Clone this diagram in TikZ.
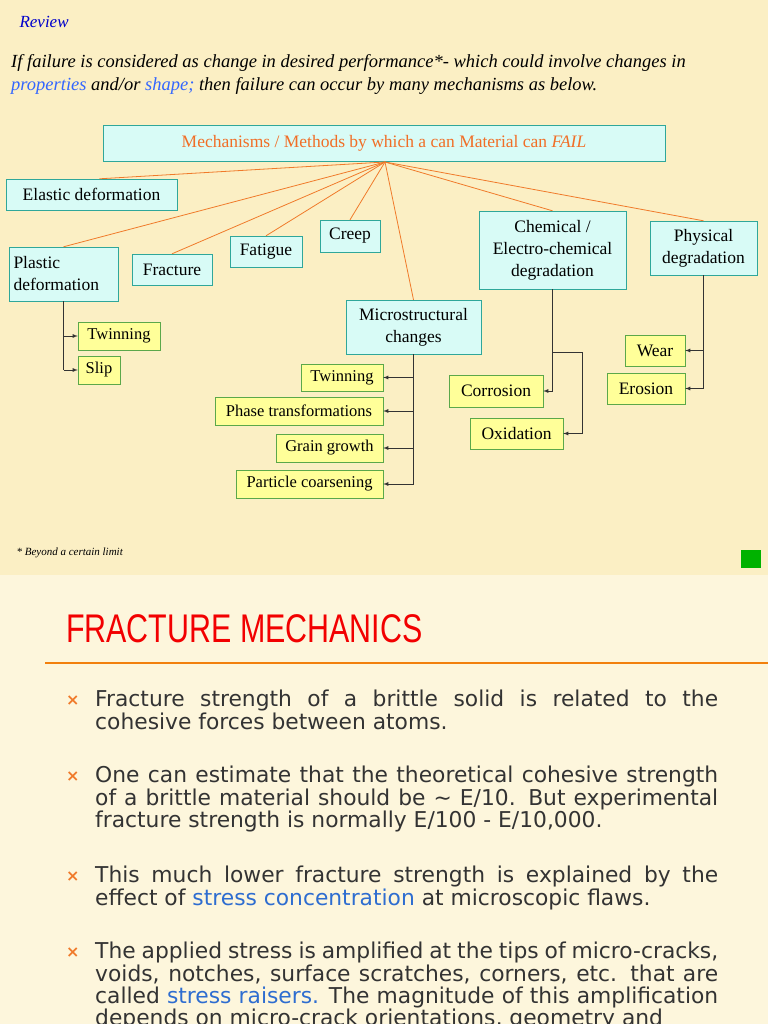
\documentclass[tikz,border=0pt]{standalone}
\usepackage{fontspec}
\setmainfont{Liberation Serif}
\newfontfamily\bodyf{DejaVu Sans}
\newfontfamily\headf{Liberation Sans}
\newcommand\nohyph{\hyphenpenalty=10000\exhyphenpenalty=10000\relax}
\definecolor{bgtop}{HTML}{FBEFC4}
\definecolor{bgbot}{HTML}{FDF6DC}
\definecolor{cyanf}{HTML}{D8FBF6}
\definecolor{cyand}{HTML}{2FA79A}
\definecolor{yelf}{HTML}{FFFF99}
\definecolor{yeld}{HTML}{5BA84A}
\definecolor{org}{HTML}{F07A2A}
\definecolor{linkb}{HTML}{3366FF}
\definecolor{stressb}{HTML}{2E6DD0}
\definecolor{bodyc}{HTML}{333333}
\begin{document}
\begin{tikzpicture}[x=1pt,y=-1pt,
 cbox/.style={draw=cyand,fill=cyanf,inner sep=0,font=\fontsize{17.5}{22}\selectfont,align=center},
 ybox/.style={draw=yeld,fill=yelf,inner sep=0,font=\fontsize{16.5}{18}\selectfont},
 oline/.style={draw=org,line width=0.8pt},
 bline/.style={draw=black!80,line width=0.8pt},
 arr/.style={bline,-latex},
 btxt/.style={anchor=north west,text width=623pt,align=justify,inner sep=0,font=\bodyf\fontsize{21.8}{22.3}\selectfont,text=bodyc},
 bul/.style={anchor=north west,inner sep=0,text=org,font=\bodyf\bfseries\fontsize{16}{16}\selectfont}]
\useasboundingbox (0,0) rectangle (768,1024);
\fill[bgtop] (0,0) rectangle (768,575);
\fill[bgbot] (0,575) rectangle (768,1024);
\node[anchor=west,text=blue!80!black,font=\itshape\fontsize{17}{17}\selectfont] (rev) at (16,22) {Review};
\node[anchor=north west,inner sep=0,align=left,font=\itshape\fontsize{18.5}{23}\selectfont] (intro) at (11,54) {If failure is considered as change in desired performance*- which could involve changes in\\\textcolor{linkb}{properties} and/or \textcolor{linkb}{shape;} then failure can occur by many mechanisms as below.};
\node[cbox,minimum width=562pt,minimum height=36pt,text=org!90!red] (top) at (384,143) {Mechanisms / Methods by which a can Material can \textit{FAIL}};
\coordinate (hub) at (385,162);
\node[cbox,minimum width=171pt,minimum height=31pt] (ela) at (91.5,194.5) {Elastic deformation};
\node[cbox,minimum width=109pt,minimum height=54pt,align=left,text width=100pt] (pla) at (63.5,274) {Plastic\\deformation};
\node[cbox,minimum width=80pt,minimum height=31pt] (fra) at (172,269.5) {Fracture};
\node[cbox,minimum width=72pt,minimum height=31pt] (fat) at (266,251.5) {Fatigue};
\node[cbox,minimum width=60pt,minimum height=32pt] (cre) at (350,236) {Creep};
\node[cbox,minimum width=135pt,minimum height=54pt] (mic) at (413.5,327) {Microstructural\\changes};
\node[cbox,minimum width=147pt,minimum height=78pt] (che) at (552.5,250) {Chemical /\\Electro-chemical\\degradation};
\node[cbox,minimum width=107pt,minimum height=54pt] (phy) at (703.5,248) {Physical\\degradation};
\draw[oline] (hub) -- ([xshift=8pt]ela.north);
\foreach \n in {pla,fra,fat,cre,mic,che,phy}
  \draw[oline] (hub) -- (\n.north);
\node[ybox,minimum width=82pt,minimum height=28pt] (tw1) at (119,336) {Twinning};
\node[ybox,minimum width=42pt,minimum height=28pt] (sli) at (99,370) {Slip};
\node[ybox,minimum width=82pt,minimum height=27pt] (tw2) at (342,377.5) {Twinning};
\node[ybox,minimum width=168pt,minimum height=28pt] (pha) at (299,411) {Phase transformations};
\node[ybox,minimum width=107pt,minimum height=28pt] (gra) at (329.5,448) {Grain growth};
\node[ybox,minimum width=147pt,minimum height=28pt] (par) at (309.5,484) {Particle coarsening};
\node[ybox,minimum width=94pt,minimum height=32pt,font=\fontsize{17.5}{18}\selectfont] (cor) at (496,391) {Corrosion};
\node[ybox,minimum width=93pt,minimum height=31pt,font=\fontsize{17.5}{18}\selectfont] (oxi) at (516.5,433.5) {Oxidation};
\node[ybox,minimum width=60pt,minimum height=31pt,font=\fontsize{17.5}{18}\selectfont] (wea) at (655,350.5) {Wear};
\node[ybox,minimum width=78pt,minimum height=31pt,font=\fontsize{17.5}{18}\selectfont] (ero) at (646,388.5) {Erosion};
% plastic branch
\draw[bline] (pla.south) -- (pla.south |- sli.west);
\draw[arr] (pla.south |- tw1.west) -- (tw1.west);
\draw[arr] (pla.south |- sli.west) -- (sli.west);
% micro branch
\draw[bline] (mic.south) -- (mic.south |- par.east);
\foreach \n in {tw2,pha,gra,par} \draw[arr] (mic.south |- \n.east) -- (\n.east);
% chemical
\coordinate (c1) at (552.5,352); \coordinate (c2) at (582,352);
\draw[bline] (che.south) -- (c1 |- cor.east);
\draw[bline] (c1) -- (c2) -- (c2 |- oxi.east);
\draw[arr] (c1 |- cor.east) -- (cor.east);
\draw[arr] (c2 |- oxi.east) -- (oxi.east);
% physical
\draw[bline] (phy.south) -- (phy.south |- ero.east);
\draw[arr] (phy.south |- wea.east) -- (wea.east);
\draw[arr] (phy.south |- ero.east) -- (ero.east);
\node[anchor=west,font=\itshape\fontsize{11}{11}\selectfont] (foot) at (13,553) {* Beyond a certain limit};
\fill[green!70!black] (741,550) rectangle (761,568);
% bottom slide
\node[anchor=west,inner sep=0,text=red!95!black,font=\headf\fontsize{40}{40}\selectfont,xscale=0.76] (ftitle) at (66,629) {FRACTURE MECHANICS};
\coordinate (l1) at (45,663); \coordinate (l2) at (768,663);
\draw[draw=orange!80!brown,line width=1.5pt] (l1) -- (l2);
\node[bul] (b1) at (66,696) {×};
\node[btxt] (t1) at (95,690) {\nohyph Fracture strength of a brittle solid is related to the \mbox{cohesive} forces between atoms.};
\node[bul] (b2) at (66,772) {×};
\node[btxt] (t2) at (95,766) {\nohyph One can estimate that the theoretical cohesive strength of a brittle material should be \textasciitilde{} E/10. But experimental fracture strength is normally E/100 - E/10,000.};
\node[bul] (b3) at (66,872) {×};
\node[btxt] (t3) at (95,866) {\nohyph This much lower fracture strength is explained by the \mbox{effect} of \textcolor{stressb}{stress concentration} at microscopic flaws.};
\node[bul] (b4) at (66,948) {×};
\node[btxt] (t4) at (95,942) {\nohyph The applied stress is amplified at the tips of micro-cracks, voids, notches, surface scratches, corners, etc. that are called \textcolor{stressb}{stress raisers.} The magnitude of this amplification depends on micro-crack orientations, geometry and};
\end{tikzpicture}
\end{document}
